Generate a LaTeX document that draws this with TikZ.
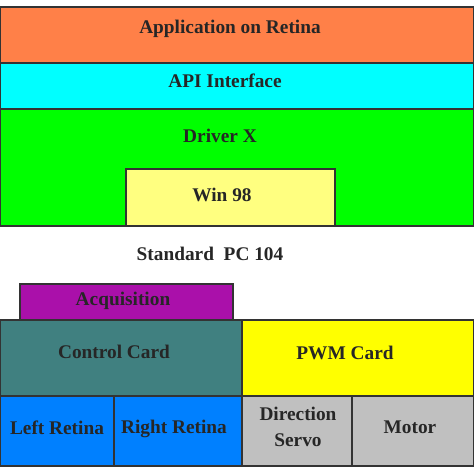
\documentclass[tikz,border=0pt]{standalone}
\usepackage{fontspec}
\setmainfont{Liberation Serif}
\usepackage{tikz}
\definecolor{apporange}{RGB}{255,128,72}
\definecolor{apicyan}{RGB}{0,255,255}
\definecolor{drvgreen}{RGB}{0,255,0}
\definecolor{winyellow}{RGB}{255,255,128}
\definecolor{acqpurple}{RGB}{170,16,170}
\definecolor{ctrlteal}{RGB}{64,128,128}
\definecolor{pwmyellow}{RGB}{255,255,0}
\definecolor{retblue}{RGB}{0,128,255}
\definecolor{motgray}{RGB}{192,192,192}

\begin{document}
\begin{tikzpicture}[x=0.02cm, y=-0.02cm,
    layer/.style={draw=black!80, line width=0.6pt},
    lbl/.style={font=\fontsize{11}{13}\selectfont\bfseries, text=black!85, align=center}]
    \useasboundingbox (0,0) rectangle (474,474);
    % software layers
    \draw[layer, fill=apporange] (0,7) rectangle (474,63);
    \draw[layer, fill=apicyan] (0,63) rectangle (474,109);
    \draw[layer, fill=drvgreen] (0,109) rectangle (474,226);
    \draw[layer, fill=winyellow] (126,169) rectangle (335,226);

    % hardware
    \draw[layer, fill=acqpurple] (20,284) rectangle (233,320);
    \draw[layer, fill=ctrlteal] (0,320) rectangle (242,396);
    \draw[layer, fill=pwmyellow] (242,320) rectangle (474,396);
    \foreach \xa/\xb in {0/114, 114/242}
        \draw[layer, fill=retblue] (\xa,396) rectangle (\xb,466);
    \foreach \xa/\xb in {242/352, 352/474}
        \draw[layer, fill=motgray] (\xa,396) rectangle (\xb,466);

    % Labels
    \node[lbl] (app) at (230,29) {Application on Retina};
    \node[lbl] (api) at (225,81) {API Interface};
    \node[lbl] (drv) at (220,136) {Driver X};
    \node[lbl] (win) at (222,195) {Win 98};
    \node[lbl] (pc) at (210,254) {Standard~ PC 104};
    \node[lbl] (acq) at (123,301) {Acquisition};
    \node[lbl] (ctrl) at (114,352) {Control Card};
    \node[lbl] (pwm) at (345,353) {PWM Card};
    \node[lbl] (left) at (57,428) {Left Retina};
    \node[lbl] (right) at (174,429) {Right Retina};
    \node[lbl] (servo) at (298,427) {Direction\\[2pt]Servo};
    \node[lbl] (motor) at (410,427) {Motor};
\end{tikzpicture}
\end{document}
